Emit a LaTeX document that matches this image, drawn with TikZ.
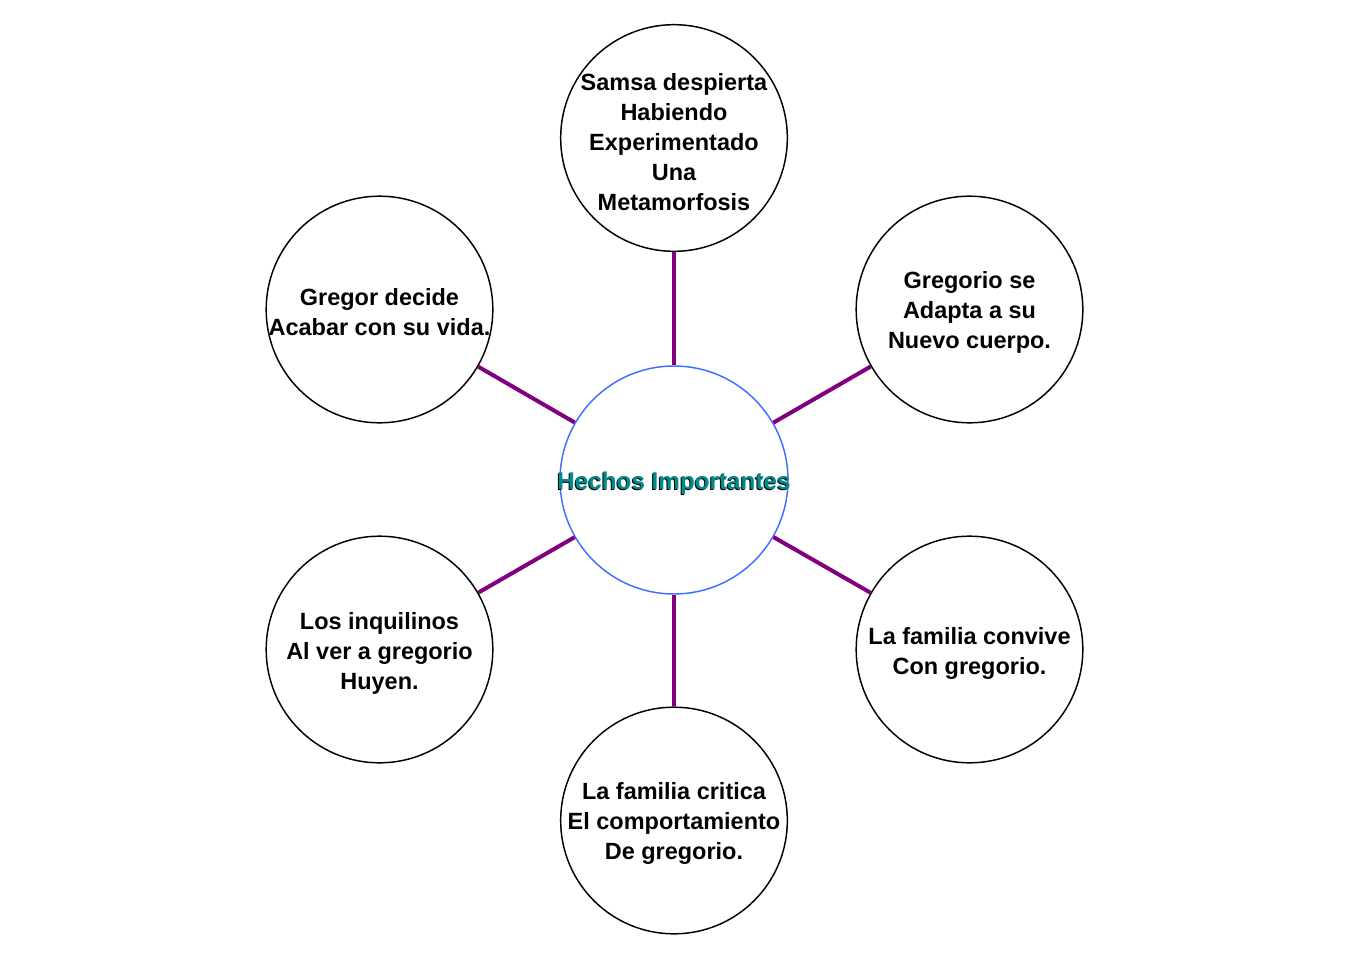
\documentclass[tikz,border=0pt]{standalone}
\usepackage{fontspec}
\setmainfont{Liberation Sans}
\definecolor{linkpurple}{RGB}{128,0,128}
\definecolor{hubblue}{RGB}{64,110,255}
\definecolor{hubteal}{RGB}{0,140,140}
\begin{document}
\begin{tikzpicture}[x=0.75pt,y=-0.75pt,
  bubble/.style={circle,draw=black,line width=1.1pt,fill=white,minimum size=170pt,inner sep=0pt},
  hub/.style={circle,draw=hubblue,line width=1.1pt,fill=white,minimum size=171pt,inner sep=0pt},
  btext/.style={align=center,font=\fontsize{17.6pt}{22.5pt}\selectfont\bfseries,inner sep=0pt},
  htext/.style={align=center,font=\fontsize{18.2pt}{22.5pt}\selectfont\bfseries,inner sep=0pt},
  link/.style={draw=linkpurple,line width=3pt}]
\useasboundingbox (0,0) rectangle (1348,959);
\node[hub] (c) at (674,480) {};
\node[bubble] (t) at (674,138) {};
\node[bubble] (tr) at (969.5,309.5) {};
\node[bubble] (br) at (969.5,649.5) {};
\node[bubble] (b) at (674,820.5) {};
\node[bubble] (bl) at (379.5,649.5) {};
\node[bubble] (tl) at (379.5,309.5) {};
\foreach \n in {t,tr,br,b,bl,tl} \draw[link] (c) -- (\n);
\node[btext] (tt) at (674,142) {Samsa despierta\\Habiendo\\Experimentado\\Una\\Metamorfosis};
\node[btext] (trt) at (969.5,312) {Gregorio se\\Adapta a su\\Nuevo cuerpo.};
\node[btext] (brt) at (969.5,653) {La familia convive\\Con gregorio.};
\node[btext] (bt) at (674,823) {La familia critica\\El comportamiento\\De gregorio.};
\node[btext] (blt) at (379.5,653) {Los inquilinos\\Al ver a gregorio\\Huyen.};
\node[btext] (tlt) at (379.5,312) {Gregor decide\\Acabar con su vida.};
\node[htext,text=black] (cs) at (673,484) {Hechos Importantes};
\node[htext,text=hubteal] (ct) at (674,483) {Hechos Importantes};
\end{tikzpicture}
\end{document}
